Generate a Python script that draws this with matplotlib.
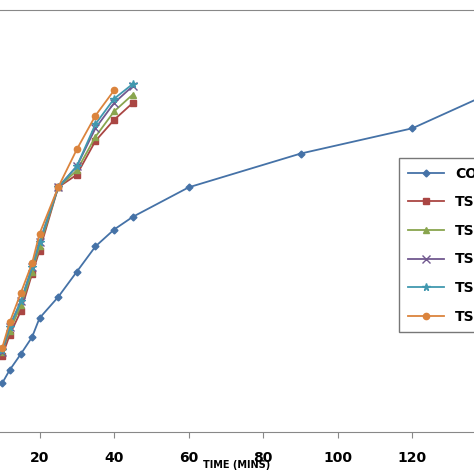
import matplotlib
matplotlib.use("Agg")
import matplotlib.pyplot as plt

t_ctrl = [10, 12, 15, 18, 20, 25, 30, 35, 40, 45, 60, 90, 120, 150]
y_ctrl = [11.6, 14.7, 18.5, 22.5, 27, 32, 38, 44, 48, 51, 58, 66, 72, 84]
t_s = [10, 12, 15, 18, 20, 25, 30, 35, 40, 45]
y_l = [18, 23, 28.7, 37.5, 43, 58, 61, 69, 74, 78]
y_g = [19, 24, 30, 38, 44, 58, 62, 70, 76, 80]
y_x = [19, 25, 31, 39, 45, 58, 63, 72, 78, 82]
y_c = [19.5, 25, 31, 39, 45, 58, 63, 73, 79, 82.5]
t_o = [10, 12, 15, 18, 20, 25, 30, 35, 40]
y_o = [20, 26, 33, 40, 47, 58, 67, 75, 81]
labels = ["CONTROL", "TSD-L1", "TSD-L2", "TSD-L3", "TSD-L4", "TSD-L5"]

fig = plt.figure(figsize=(4.74, 4.74), dpi=100)
ax = fig.add_axes([0, 0.0886, 1, 0.89])
ax.plot(t_ctrl, y_ctrl, '-D', color='#4572A7', ms=3.5, lw=1.3, label=labels[0])
ax.plot(t_s, y_l, '-s', color='#AA4643', ms=4.5, lw=1.3, label=labels[1])
ax.plot(t_s, y_g, '-^', color='#89A54E', ms=4.5, lw=1.3, label=labels[2])
ax.plot(t_s, y_x, '-x', color='#71588F', ms=5.5, lw=1.3, label=labels[3])
ax.plot(t_s, y_c, '-*', color='#4198AF', ms=5.5, lw=1.3, label=labels[4])
ax.plot(t_o, y_o, '-o', color='#DB843D', ms=4.5, lw=1.3, label=labels[5])
ax.set_xlim(9.4, 136.5)
ax.set_ylim(0, 100)
ax.set_xticks([20, 40, 60, 80, 100, 120])
ax.tick_params(axis='x', direction='out', length=4, color='#888888', labelsize=10, pad=10)
for lb in ax.get_xticklabels():
    lb.set_fontweight('bold')
ax.set_yticks([])
for s in ['left', 'right']:
    ax.spines[s].set_visible(False)
for s in ['top', 'bottom']:
    ax.spines[s].set_color('#888888')
ax.set_xlabel("TIME (MINS)", fontsize=7, fontweight='bold', labelpad=-4)
leg = ax.legend(loc='upper left', bbox_to_anchor=(0.828, 0.665), frameon=True, fancybox=False,
                edgecolor='#555555', labelspacing=1.05, handlelength=2.6,
                borderpad=0.6, prop={'weight': 'bold', 'size': 10})
fig.savefig("out.png", dpi=100)
